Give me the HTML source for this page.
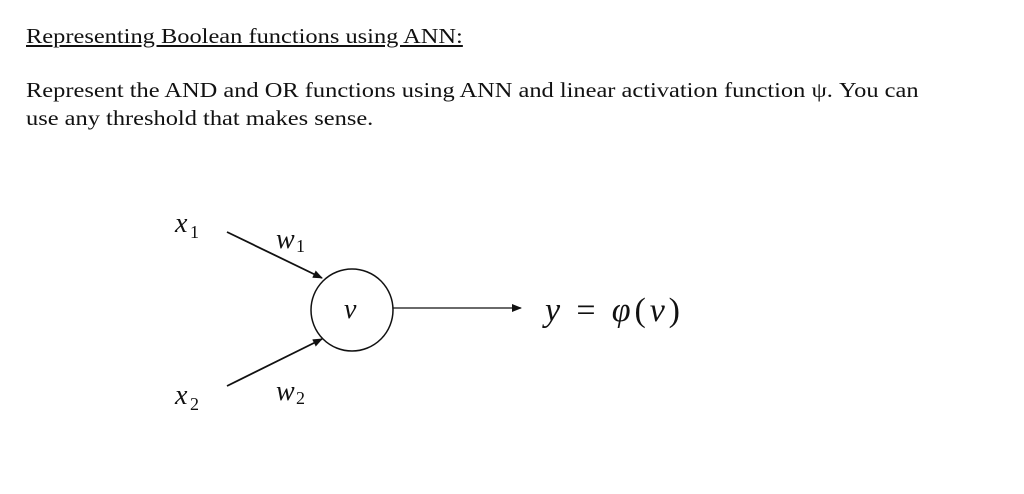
<!DOCTYPE html>
<html><head><style>
body{margin:0;width:1024px;height:494px;background:#fff;overflow:hidden;position:relative;font-family:"Liberation Serif",serif;color:#111}
.t{position:absolute;left:26px;font-size:21px;white-space:nowrap;transform:scaleX(1.163);transform-origin:0 0}
</style></head><body>
<div class="t" style="top:24px;text-decoration:underline">Representing Boolean functions using ANN:</div>
<div class="t" style="top:78px">Represent the AND and OR functions using ANN and linear activation function ψ. You can</div>
<div class="t" style="top:106px">use any threshold that makes sense.</div>
<svg width="1024" height="494" style="position:absolute;left:0;top:0">
<defs><marker id="a" markerWidth="10" markerHeight="8" refX="9" refY="4" orient="auto" markerUnits="userSpaceOnUse"><path d="M0,0 L10,4 L0,8 z" fill="#111"/></marker></defs>
<circle cx="352" cy="310" r="41" fill="none" stroke="#111" stroke-width="1.5"/>
<line x1="227" y1="232" x2="322" y2="278" stroke="#111" stroke-width="1.8" marker-end="url(#a)"/>
<line x1="227" y1="386" x2="322" y2="339" stroke="#111" stroke-width="1.8" marker-end="url(#a)"/>
<line x1="393" y1="308" x2="521" y2="308" stroke="#111" stroke-width="1.2" marker-end="url(#a)"/>
<g font-family="Liberation Serif,serif" font-size="28" fill="#111">
<text x="175" y="232" font-style="italic">x</text><text x="190" y="238" font-size="18">1</text>
<text x="276" y="248" font-style="italic">w</text><text x="296" y="252" font-size="18">1</text>
<text x="344" y="318" font-style="italic">v</text>
<text x="175" y="404" font-style="italic">x</text><text x="190" y="410" font-size="18">2</text>
<text x="276" y="400" font-style="italic">w</text><text x="296" y="404" font-size="18">2</text>
<text x="545" y="321" font-size="34" textLength="135" lengthAdjust="spacing"><tspan font-style="italic">y</tspan> = <tspan font-style="italic">φ</tspan>(<tspan font-style="italic">v</tspan>)</text>
</g>
</svg>
</body></html>
